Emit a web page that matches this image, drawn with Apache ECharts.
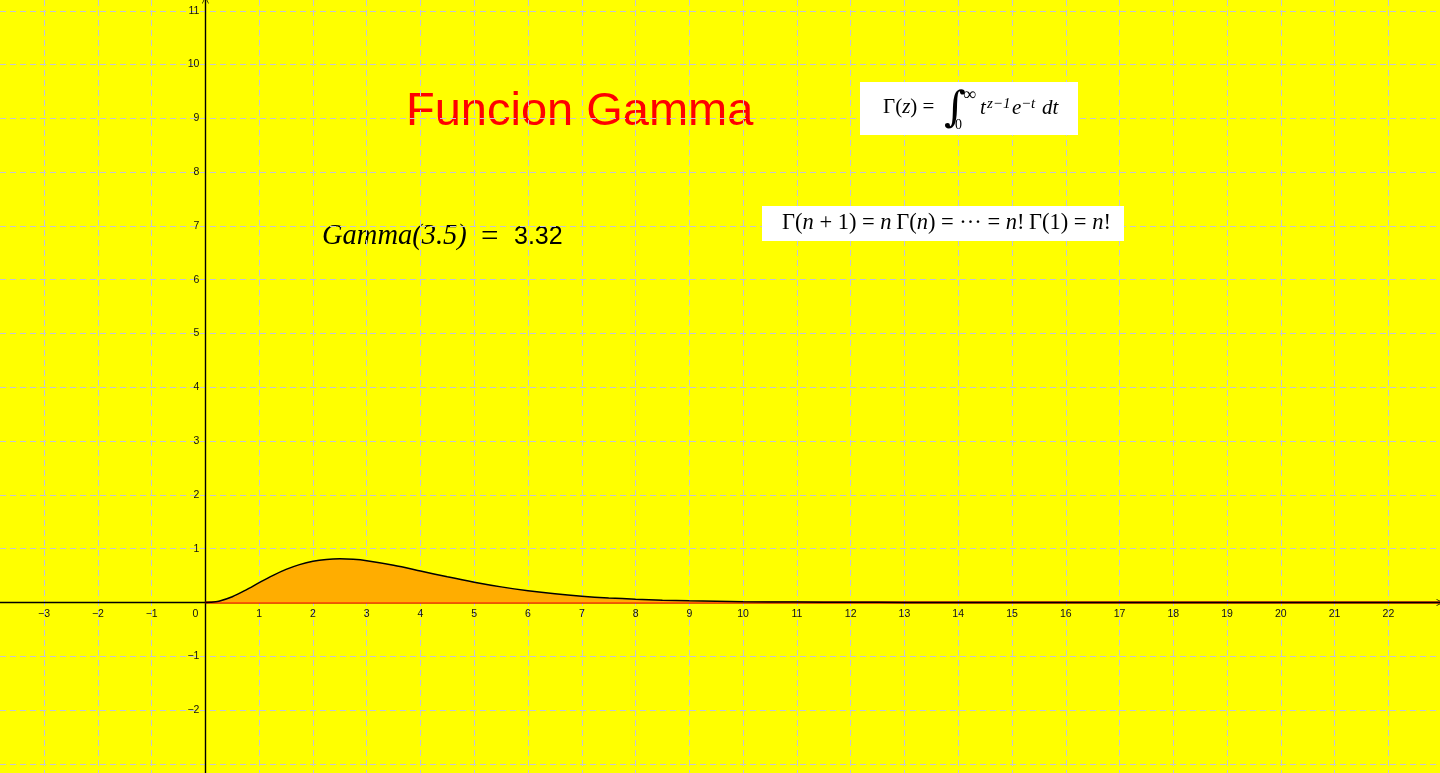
<!DOCTYPE html>
<html>
<head>
<meta charset="utf-8">
<script src="https://cdn.jsdelivr.net/npm/echarts@6/dist/echarts.min.js"></script>
<style>
html,body{margin:0;padding:0;background:#ffff00;}
#c{width:1440px;height:773px;}
</style>
</head>
<body>
<div id="c"></div>
<script>
// ---- data ----
const curveX = [0, 0.1, 0.25, 0.5, 0.75, 1, 1.25, 1.5, 1.75, 2, 2.25, 2.5, 2.75, 3, 3.5, 4, 4.5, 5, 5.5, 6, 6.5, 7, 7.5, 8, 8.5, 9, 10, 11, 12, 13, 14, 15, 16, 18, 20, 22.96];
const curveY = [0, 0.003, 0.024, 0.107, 0.230, 0.368, 0.500, 0.615, 0.704, 0.766, 0.800, 0.811, 0.802, 0.776, 0.692, 0.586, 0.477, 0.377, 0.290, 0.219, 0.162, 0.118, 0.085, 0.061, 0.043, 0.030, 0.014, 0.007, 0.003, 0.0014, 0.0006, 0.0003, 0.0001, 0, 0, 0];
const xTicks = [-3, -2, -1, 0, 1, 2, 3, 4, 5, 6, 7, 8, 9, 10, 11, 12, 13, 14, 15, 16, 17, 18, 19, 20, 21, 22];
const yTicks = [-3, -2, -1, 0, 1, 2, 3, 4, 5, 6, 7, 8, 9, 10, 11];
const yLabelValues = [-2, -1, 1, 2, 3, 4, 5, 6, 7, 8, 9, 10, 11];
const xRange = [-3.82, 22.96];
const yRange = [-3.17, 11.2];
const titleText = 'Funcion Gamma';
const gammaArg = '3.5';
const gammaValue = '3.32';

const curveData = curveX.map((x, i) => [x, curveY[i]]);
const baseData = [[curveX[0], 0], [curveX[curveX.length - 1], 0]];

const W = 1440, H = 773;
const chart = echarts.init(document.getElementById('c'), null, {renderer: 'canvas'});
// pixel offsets of the zero lines, derived from the ranges
const xZeroOffset = -W * (0 - xRange[0]) / (xRange[1] - xRange[0]);
const yZeroOffset = -H * (0 - yRange[0]) / (yRange[1] - yRange[0]);

const fmt = v => String(v).replace('-', '\u2212');
const gridLine = {show: true, lineStyle: {color: '#c4c4d6', width: 1, type: [6, 4]}};
const chevron = 'path://M0,10 L5,0 L10,10 L9,10 L5,2 L1,10 Z';
const serif = 'Liberation Serif';
const fs = 21;

chart.setOption({
  backgroundColor: '#ffff00',
  animation: false,
  grid: {left: 0, right: 0, top: 0, bottom: 0, containLabel: false, outerBoundsMode: 'none'},
  xAxis: {
    type: 'value', min: xRange[0], max: xRange[1], position: 'bottom', offset: yZeroOffset, z: 1,
    axisLine: {show: true, onZero: false, lineStyle: {color: '#000', width: 1.4}, symbol: ['none', chevron], symbolSize: [10, 7]},
    axisTick: {show: false, customValues: xTicks},
    axisLabel: {
      customValues: xTicks, margin: 6, fontSize: 10.5, color: '#111', fontFamily: 'Liberation Sans',
      formatter: v => v === 0 ? '{z|0}' : fmt(v),
      rich: {z: {fontSize: 10.5, color: '#111', fontFamily: 'Liberation Sans', padding: [0, 20, 0, 0]}}
    },
    splitLine: gridLine
  },
  yAxis: {
    type: 'value', min: yRange[0], max: yRange[1], position: 'left', offset: xZeroOffset, z: 1,
    axisLine: {show: true, onZero: false, lineStyle: {color: '#000', width: 1.4}, symbol: ['none', chevron], symbolSize: [10, 7]},
    axisTick: {show: false, customValues: yTicks},
    axisLabel: {customValues: yLabelValues, margin: 6, fontSize: 10.5, color: '#111', fontFamily: 'Liberation Sans', formatter: fmt},
    splitLine: gridLine
  },
  series: [
    {
      type: 'line', data: baseData, symbol: 'none', z: 10,
      lineStyle: {color: '#ff0000', width: 2}
    },
    {
      type: 'line', data: curveData, symbol: 'none', smooth: 0.3, z: 11,
      lineStyle: {color: '#000', width: 1.5},
      areaStyle: {color: '#ffad00', opacity: 1, origin: 'auto'}
    }
  ],
  graphic: [
    {type: 'text', x: 406, y: 112, style: {text: titleText, fill: '#ff0000', font: '47px "Liberation Sans"', align: 'left', verticalAlign: 'middle'}},
    {type: 'text', x: 322, y: 237, style: {text: 'Gamma(' + gammaArg + ')', fill: '#000', font: 'italic 28.5px "Liberation Serif"', align: 'left', verticalAlign: 'middle'}},
    {type: 'text', x: 481, y: 238, style: {text: '=', fill: '#000', font: '31px "Liberation Serif"', align: 'left', verticalAlign: 'middle'}},
    {type: 'text', x: 514, y: 237, style: {text: gammaValue, fill: '#000', font: '25px "Liberation Sans"', align: 'left', verticalAlign: 'middle'}},
    // formula box 1
    {type: 'rect', shape: {x: 860, y: 82, width: 218, height: 53}, style: {fill: '#fff'}, z: 20},
    {type: 'text', x: 883, y: 107, z: 21, style: {
      text: '\u0393({i|z}) =', font: fs + 'px "' + serif + '"', fill: '#000', align: 'left', verticalAlign: 'middle',
      rich: {i: {fontStyle: 'italic', fontSize: fs, fontFamily: serif}}
    }},
    {type: 'text', x: 944, y: 110, z: 21, style: {text: '\u222B', font: '42px "DejaVu Serif"', fill: '#000', align: 'left', verticalAlign: 'middle'}},
    {type: 'text', x: 963, y: 95, z: 21, style: {text: '\u221E', font: '18px "' + serif + '"', fill: '#000', align: 'left', verticalAlign: 'middle'}},
    {type: 'text', x: 955, y: 125, z: 21, style: {text: '0', font: '14px "' + serif + '"', fill: '#000', align: 'left', verticalAlign: 'middle'}},
    {type: 'text', x: 980, y: 108, z: 21, style: {text: 't', font: 'italic ' + fs + 'px "' + serif + '"', fill: '#000', align: 'left', verticalAlign: 'middle'}},
    {type: 'text', x: 987, y: 104, z: 21, style: {text: 'z\u22121', font: 'italic 15px "' + serif + '"', fill: '#000', align: 'left', verticalAlign: 'middle'}},
    {type: 'text', x: 1012, y: 108, z: 21, style: {text: 'e', font: 'italic ' + fs + 'px "' + serif + '"', fill: '#000', align: 'left', verticalAlign: 'middle'}},
    {type: 'text', x: 1021, y: 104, z: 21, style: {text: '\u2212t', font: 'italic 15px "' + serif + '"', fill: '#000', align: 'left', verticalAlign: 'middle'}},
    {type: 'text', x: 1042, y: 108, z: 21, style: {text: 'dt', font: 'italic ' + fs + 'px "' + serif + '"', fill: '#000', align: 'left', verticalAlign: 'middle'}},
    // formula box 2
    {type: 'rect', shape: {x: 762, y: 206, width: 362, height: 35}, style: {fill: '#fff'}, z: 20},
    {type: 'text', x: 782, y: 223, z: 21, style: {
      text: '\u0393({i|n} + 1) = {i|n}\u2009\u0393({i|n}) = \u00B7\u00B7\u00B7 = {i|n}!\u2009\u0393(1) = {i|n}!',
      font: '22.5px "' + serif + '"', fill: '#000', align: 'left', verticalAlign: 'middle',
      rich: {i: {fontStyle: 'italic', fontSize: 22.5, fontFamily: serif}}
    }}
  ]
});
</script>
</body>
</html>
